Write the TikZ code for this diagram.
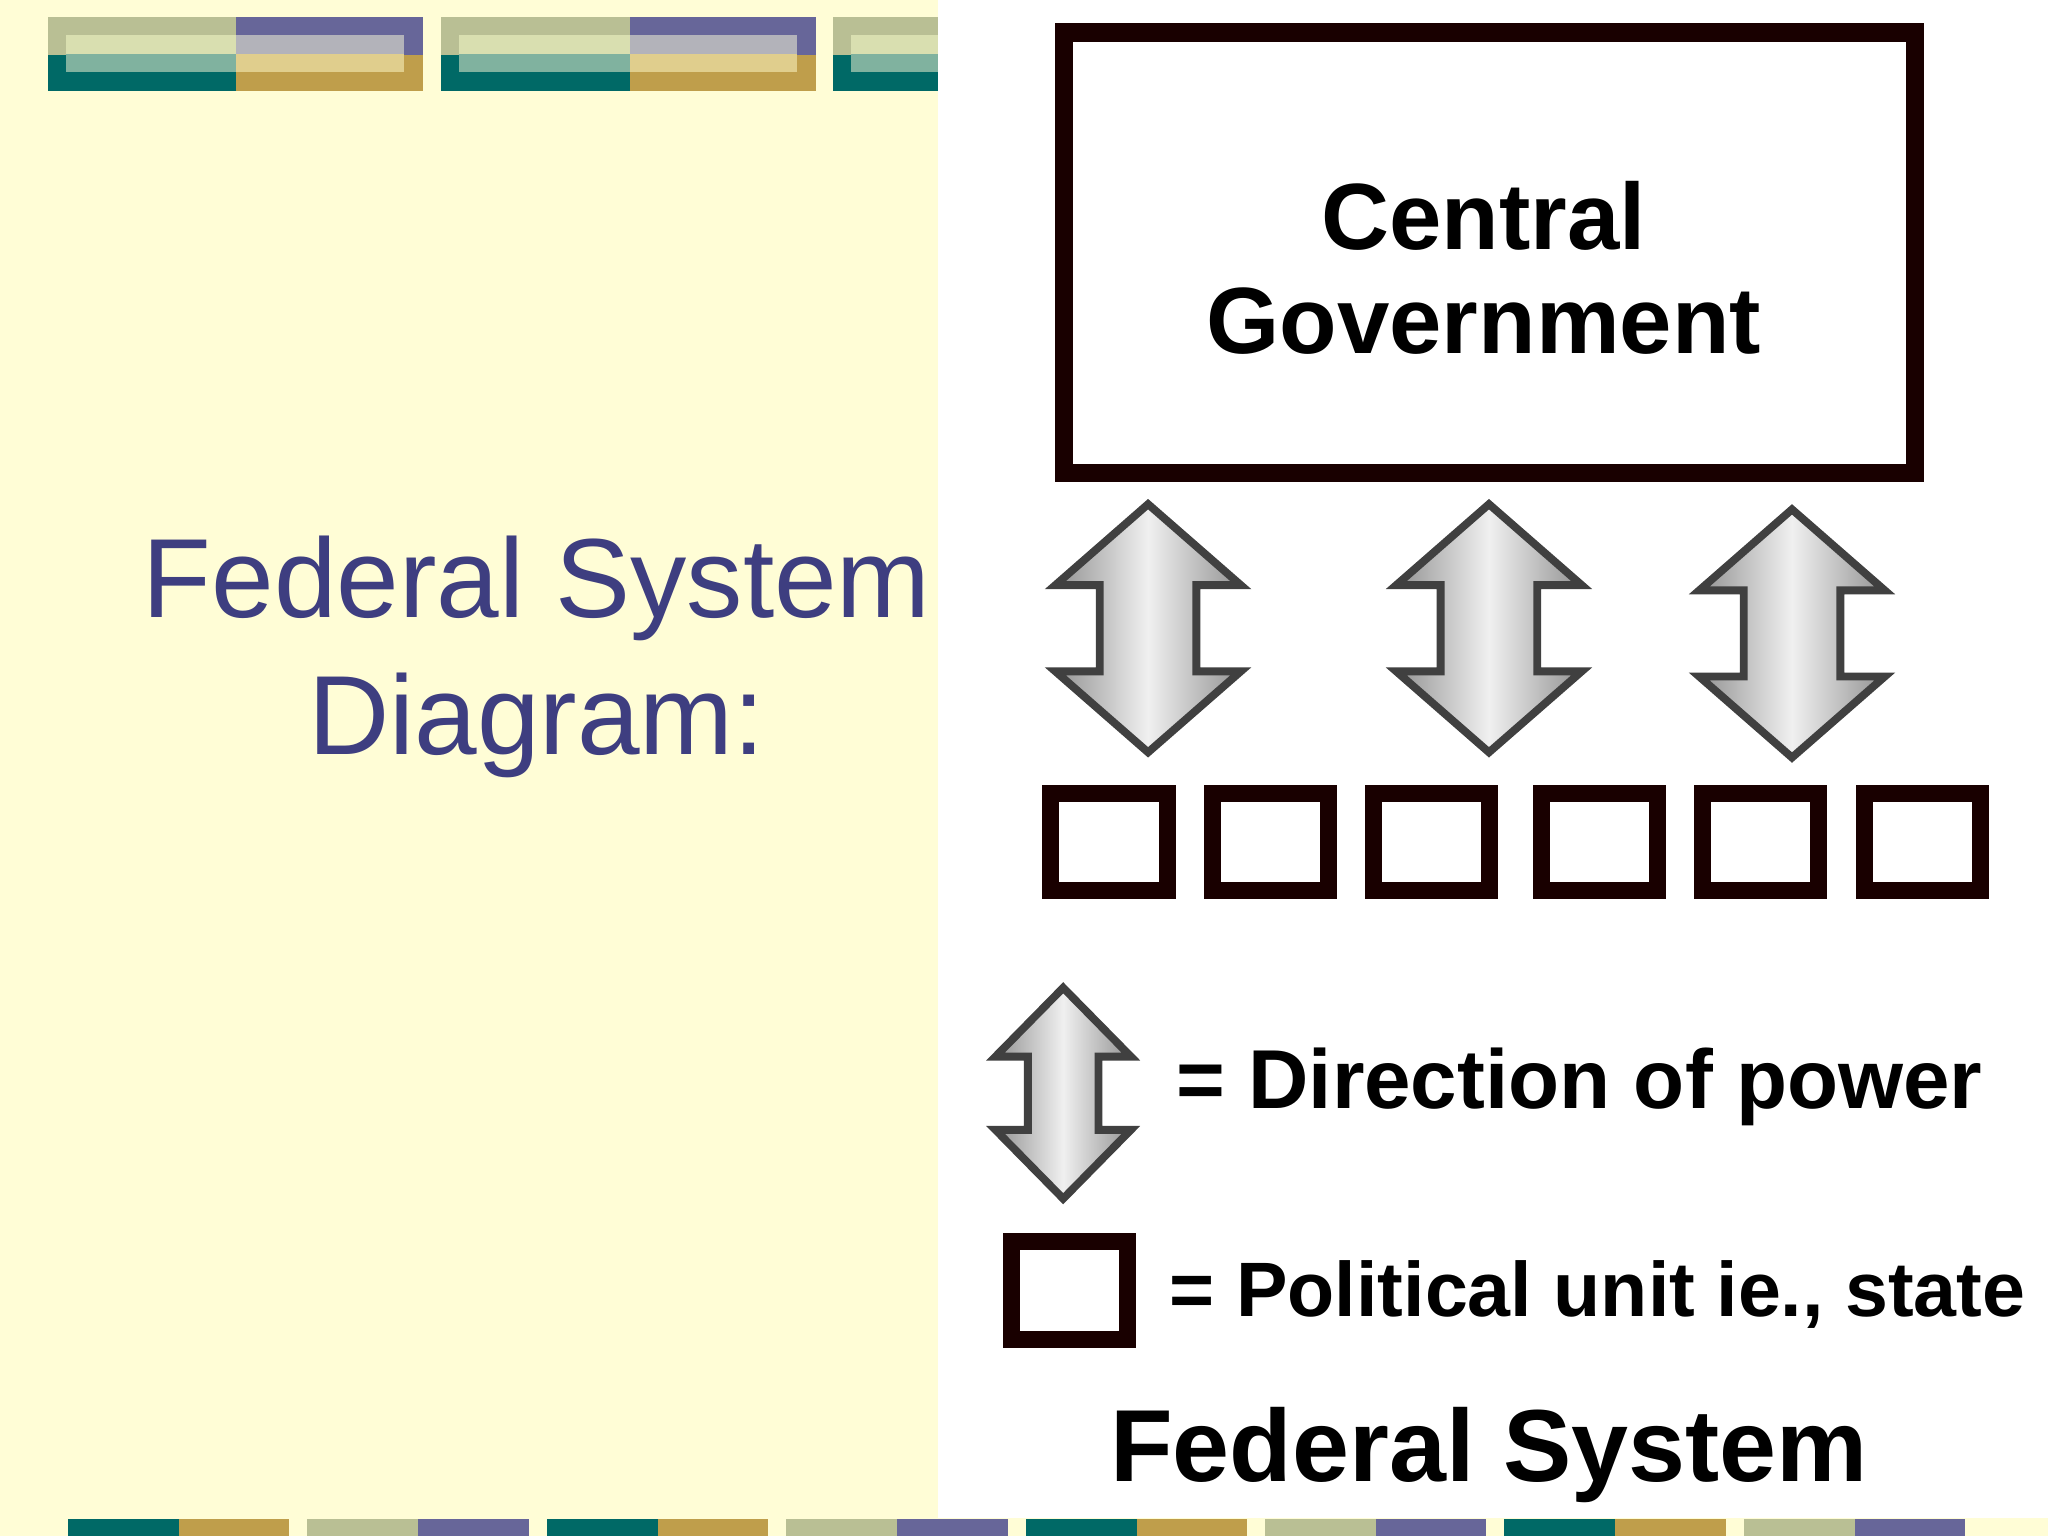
\documentclass[tikz,border=0pt]{standalone}
\usepackage{fontspec}
\setmainfont{Liberation Sans}
\definecolor{cream}{HTML}{FFFDD6}
\definecolor{khaki}{HTML}{B9BF94}
\definecolor{purp}{HTML}{676699}
\definecolor{teal2}{HTML}{006966}
\definecolor{gold}{HTML}{BF9E4B}
\definecolor{lkhaki}{HTML}{D9DFB0}
\definecolor{lpurp}{HTML}{B3B3BA}
\definecolor{lteal}{HTML}{80B29F}
\definecolor{lgold}{HTML}{E0CE8D}
\definecolor{titleblue}{HTML}{3E3E80}
\tikzset{
  unitbox/.style={draw=black!90!red, line width=1.3mm, fill=white},
  lbl/.style={font=\bfseries\fontsize{18.2}{20}\selectfont, anchor=west, inner sep=0},
  pics/dblarrow/.style={code={
    \path[draw=black!75, line width=0.6mm, left color=gray!85, right color=gray!85, middle color=gray!12]
      (0,-95) -- (71,-33) -- (37,-33) -- (37,33) -- (71,33) -- (0,95) -- (-71,33) -- (-37,33) -- (-37,-33) -- (-71,-33) -- cycle;
  }}
}
\newcommand\topbar[1]{%
  \fill[khaki] (#1,13) rectangle ++(144,29);
  \fill[purp] (#1+144,13) rectangle ++(143,29);
  \fill[teal2] (#1,42) rectangle ++(144,28);
  \fill[gold] (#1+144,42) rectangle ++(143,28);
  \fill[lkhaki] (#1+13.5,27) rectangle (#1+144,41.5);
  \fill[lpurp] (#1+144,27) rectangle (#1+272,41.5);
  \fill[lteal] (#1+13.5,41.5) rectangle (#1+144,55);
  \fill[lgold] (#1+144,41.5) rectangle (#1+272,55);}
\begin{document}
\begin{tikzpicture}[x=0.01cm,y=-0.01cm]
\useasboundingbox (0,0) rectangle (1568,1176);
\fill[cream] (0,0) rectangle (1568,1176);
\topbar{37}\topbar{338}\topbar{638}
\fill[white] (718,0) rectangle (1568,1162);
% bottom bars
\foreach \i/\a/\b in {0/teal2/gold,1/khaki/purp,2/teal2/gold,3/khaki/purp,4/teal2/gold,5/khaki/purp,6/teal2/gold,7/khaki/purp}{
  \fill[\a] (52+183.3*\i,1163) rectangle ++(85,13);
  \fill[\b] (137+183.3*\i,1163) rectangle ++(84.5,13);
}
\node[titleblue, align=center, font=\fontsize{24.5}{29.8}\selectfont] (title) at (411,503) {Federal System\\Diagram:};
\node[draw=black!90!red, line width=1.4mm, minimum width=65.1mm, minimum height=33.7mm] (cg) at (1140.5,193.5) {};
\node[align=center, font=\bfseries\fontsize{20.5}{22.5}\selectfont] (cgt) at (1136,205) {Central\\Government};
\pic (a1) at (879,481) {dblarrow};
\pic (a2) at (1140,481) {dblarrow};
\pic (a3) at (1372,485) {dblarrow};
\foreach \x [count=\k] in {849,972.5,1096,1224.5,1348,1472}{
  \node[unitbox, minimum width=8.9mm, minimum height=7.4mm, inner sep=0] (s\k) at (\x,644.5) {};
}
\pic[xscale=0.73, yscale=0.85] (la) at (814,837) {dblarrow};
\node[lbl] (ldir) at (900,832) {= Direction of power};
\node[unitbox, minimum width=8.9mm, minimum height=7.5mm, inner sep=0] (ls) at (819,988) {};
\node[lbl, font=\bfseries\fontsize{16.8}{18}\selectfont] (lpol) at (895,991) {= Political unit ie., state};
\node[font=\bfseries\fontsize{22.3}{24}\selectfont] (fs) at (1140,1114) {Federal System};
\end{tikzpicture}
\end{document}
